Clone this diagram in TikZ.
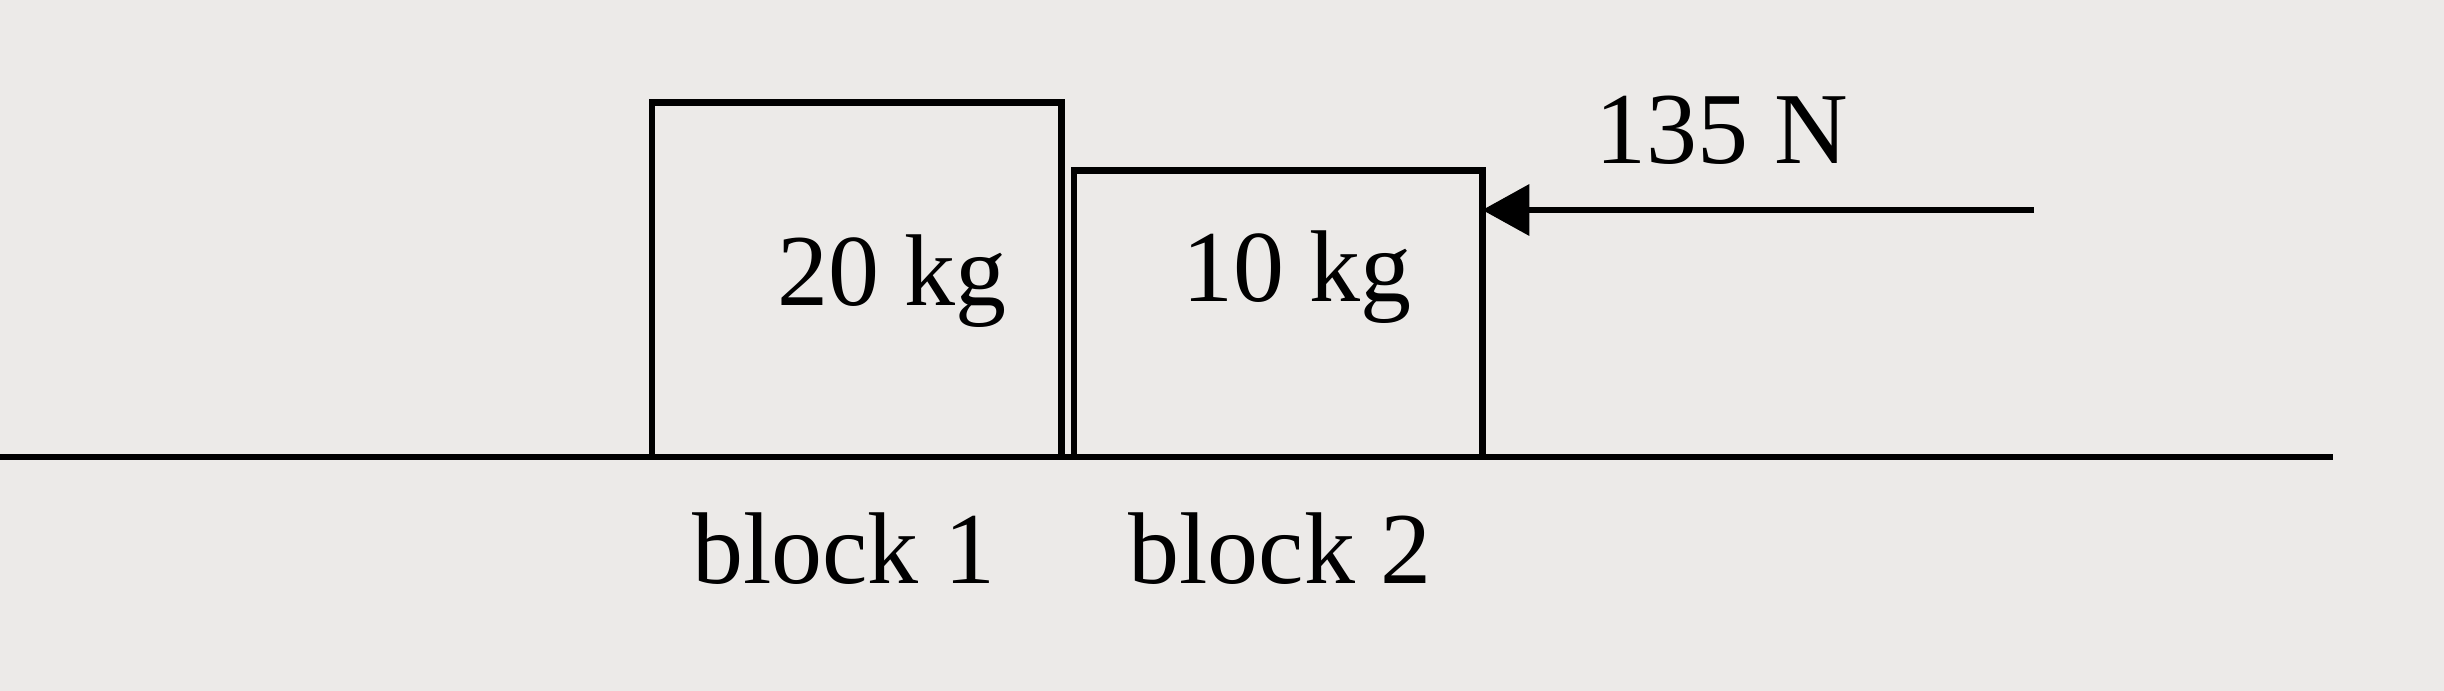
\documentclass[tikz,border=0pt]{standalone}
\usepackage{fontspec}
\setmainfont{Liberation Serif}
\usepackage{tikz}
\usetikzlibrary{arrows.meta,positioning}
\definecolor{paper}{RGB}{236,234,232}

\begin{document}
\begin{tikzpicture}[x=0.01cm,y=-0.01cm,>={Triangle[length=4.7mm,width=5mm]},
                    line width=1.9pt,font=\fontsize{29}{34}\selectfont]
  \tikzstyle{every node}=[inner sep=0pt,outer sep=0pt]
  \tikzstyle{block}=[draw,anchor=south west]

  \fill[paper] (0,0) rectangle (2444,691);
  \useasboundingbox (0,0) rectangle (2444,691);

  \node[block,minimum width=4.09cm,minimum height=3.54cm] (b1) at (652,457) {};
  \node[block,minimum width=4.08cm,minimum height=2.86cm] (b2) at (1074,457) {};

  \node (m1) at (892,281) {20 kg};
  \node (m2) at (1297,277) {10 kg};
  \node (l1) [below=0.56cm of b1,xshift=-0.13cm] {block 1};
  \node (l2) [below=0.56cm of b2,xshift=0.02cm] {block 2};
  \node (f) at (1722,130) {135 N};

  \coordinate (gl) at (0,457);
  \coordinate (gr) at (2333,457);
  \coordinate (ft) at (2034,210);

  \draw (gl) -- (gr);
  \draw[->] (ft) -- (b2.east |- ft);
\end{tikzpicture}
\end{document}
